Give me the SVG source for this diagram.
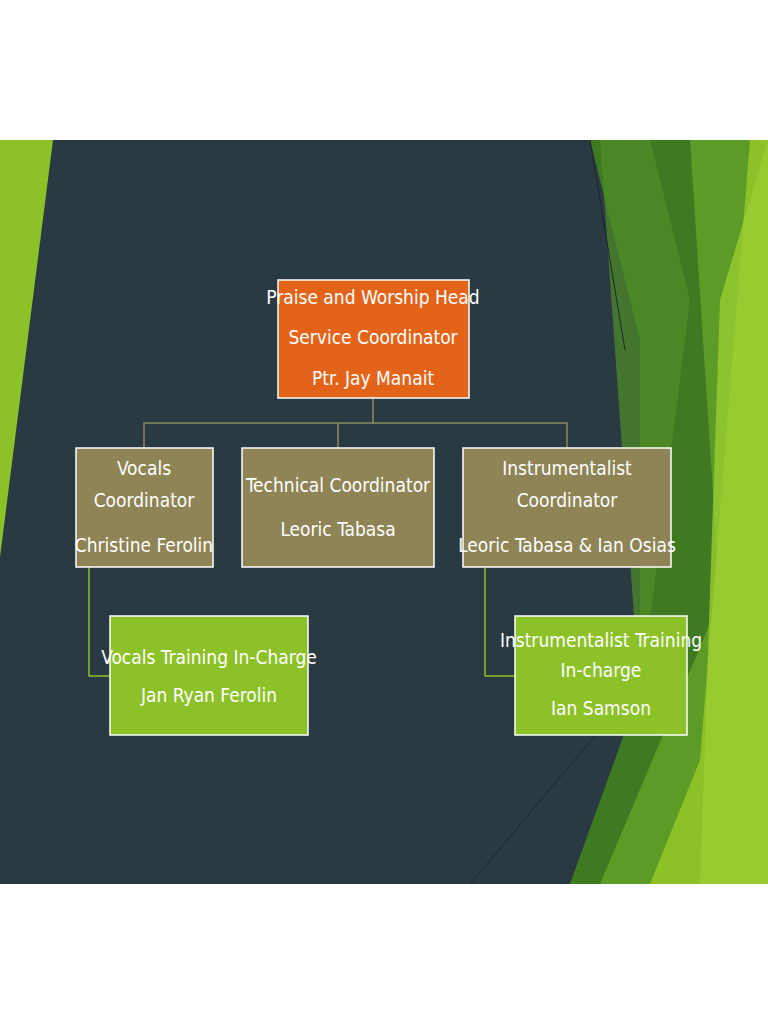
<svg xmlns="http://www.w3.org/2000/svg" width="768" height="1024" viewBox="0 0 768 1024">
<style>
.t{font-family:"DejaVu Sans Condensed","Liberation Sans Narrow",sans-serif;font-stretch:condensed;fill:#fff;font-size:19px;text-anchor:middle}
.c{fill:none;stroke-width:1.5}
.box{stroke:#fff;stroke-width:1.5}
</style>
<rect width="768" height="1024" fill="#fff"/>
<rect x="0" y="140" width="768" height="744" fill="#2a3a43"/>
<polygon points="0,140 53,140 0,557" fill="#8cc128"/>
<polygon points="590,140 768,140 768,884 570,884 640,690 640,340" fill="#3e7a22"/>
<polygon points="690,140 768,140 768,884 600,884 720,600" fill="#5d9b27"/>
<polygon points="750,140 768,140 768,884 650,884 700,760" fill="#8cc128"/>
<polygon points="720,300 768,140 768,884 700,884" fill="#9acd32" opacity="0.8"/>
<polygon points="600,140 650,140 690,300 640,700" fill="#4f8e25" opacity="0.7"/>
<line x1="590" y1="140" x2="625" y2="350" stroke="#1c262c" stroke-width="1"/>
<line x1="470" y1="884" x2="600" y2="730" stroke="#1c262c" stroke-width="1"/>
<g id="connectors">
<path class="c" stroke="#8a8b5c" d="M373 398V423M144 448V423H567V448M338 423V448"/>
<path class="c" stroke="#8cc128" d="M89 567V676H110M485 567V676H515"/>
</g>
<g id="head"><rect class="box" x="278" y="280" width="191" height="118" fill="#e36419"/>
<text class="t" x="373" y="304">Praise and Worship Head</text><text class="t" x="373" y="344">Service Coordinator</text><text class="t" x="373" y="385">Ptr. Jay Manait</text></g>
<g id="vocals"><rect class="box" x="76" y="448" width="137" height="119" fill="#8e8455"/>
<text class="t" x="144" y="475">Vocals</text><text class="t" x="144" y="507">Coordinator</text><text class="t" x="144" y="552">Christine Ferolin</text></g>
<g id="tech"><rect class="box" x="242" y="448" width="192" height="119" fill="#8e8455"/>
<text class="t" x="338" y="492">Technical Coordinator</text><text class="t" x="338" y="536">Leoric Tabasa</text></g>
<g id="instr"><rect class="box" x="463" y="448" width="208" height="119" fill="#8e8455"/>
<text class="t" x="567" y="475">Instrumentalist</text><text class="t" x="567" y="507">Coordinator</text><text class="t" x="567" y="552">Leoric Tabasa &amp; Ian Osias</text></g>
<g id="vtrain"><rect class="box" x="110" y="616" width="198" height="119" fill="#8cc128"/>
<text class="t" x="209" y="664">Vocals Training In-Charge</text><text class="t" x="209" y="702">Jan Ryan Ferolin</text></g>
<g id="itrain"><rect class="box" x="515" y="616" width="172" height="119" fill="#8cc128"/>
<text class="t" x="601" y="647">Instrumentalist Training</text><text class="t" x="601" y="677">In-charge</text><text class="t" x="601" y="715">Ian Samson</text></g>
</svg>
